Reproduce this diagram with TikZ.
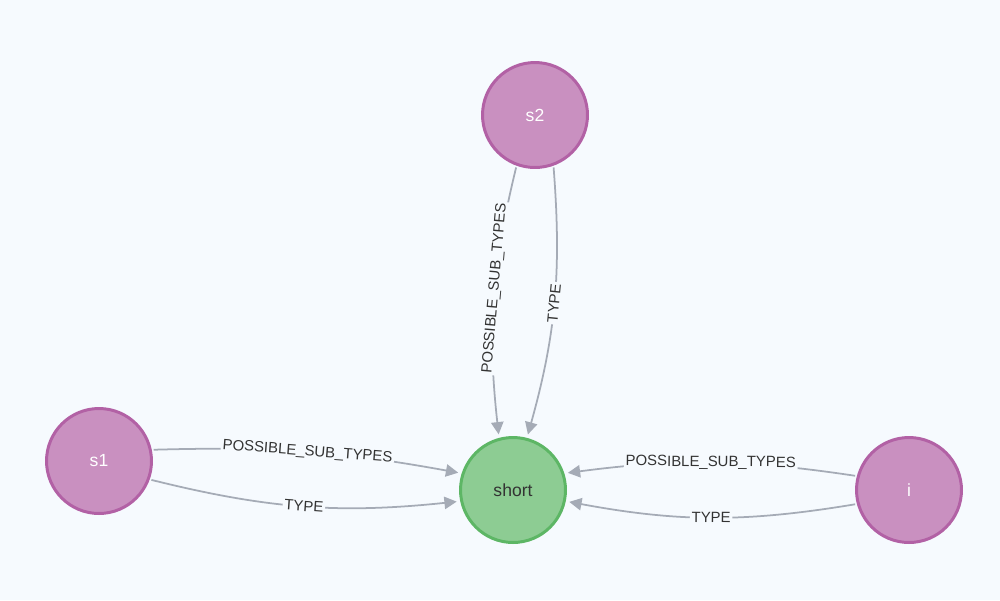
\documentclass[tikz,border=0pt]{standalone}
\usepackage{fontspec}
\setmainfont{Liberation Sans}
\usetikzlibrary{arrows.meta}
\definecolor{bg}{HTML}{F6FAFE}
\definecolor{pfill}{HTML}{C990C0}
\definecolor{pdraw}{HTML}{B261A5}
\definecolor{gfill}{HTML}{8DCC93}
\definecolor{gdraw}{HTML}{5DB665}
\definecolor{edge}{HTML}{A5ABB6}
\tikzset{
  pnode/.style={circle,fill=pfill,draw=pdraw,line width=1.7pt,minimum size=2.1cm,inner sep=0pt,text=white,font=\fontsize{10}{12}\selectfont},
  gnode/.style={circle,fill=gfill,draw=gdraw,line width=1.7pt,minimum size=2.1cm,inner sep=0pt,text=black!80,font=\fontsize{10}{12}\selectfont},
  rel/.style={draw=edge,line width=1pt,-{Triangle[length=7pt,width=7pt]},shorten <=1pt,shorten >=2pt},
  lab/.style={fill=bg,inner sep=1pt,sloped,font=\fontsize{8.5}{10}\selectfont,text=black!80}
}
\begin{document}
\begin{tikzpicture}[x=0.02cm,y=-0.02cm]
\fill[bg] (0,0) rectangle (1000,600);
\useasboundingbox (0,0) rectangle (1000,600);
\node[pnode] (s2) at (535,115) {s2};
\node[pnode] (s1) at (99,461) {s1};
\node[gnode] (short) at (513,490) {short};
\node[pnode] (i) at (909,490) {i};
\draw[rel] (s2.250) to[bend right=10] node[lab,pos=0.45]{POSSIBLE\_SUB\_TYPES} (short.105);
\draw[rel] (s2.290) to[bend left=10] node[lab,pos=0.5]{TYPE} (short.75);
\draw[rel] (s1.12) to[bend left=6] node[lab,pos=0.5]{POSSIBLE\_SUB\_TYPES} (short.162);
\draw[rel] (s1.-20) to[bend right=10] node[lab,pos=0.5]{TYPE} (short.-168);
\draw[rel] (i.165) to[bend right=8] node[lab,pos=0.5]{POSSIBLE\_SUB\_TYPES} (short.18);
\draw[rel] (i.-165) to[bend left=10] node[lab,pos=0.5]{TYPE} (short.-12);
\end{tikzpicture}
\end{document}
